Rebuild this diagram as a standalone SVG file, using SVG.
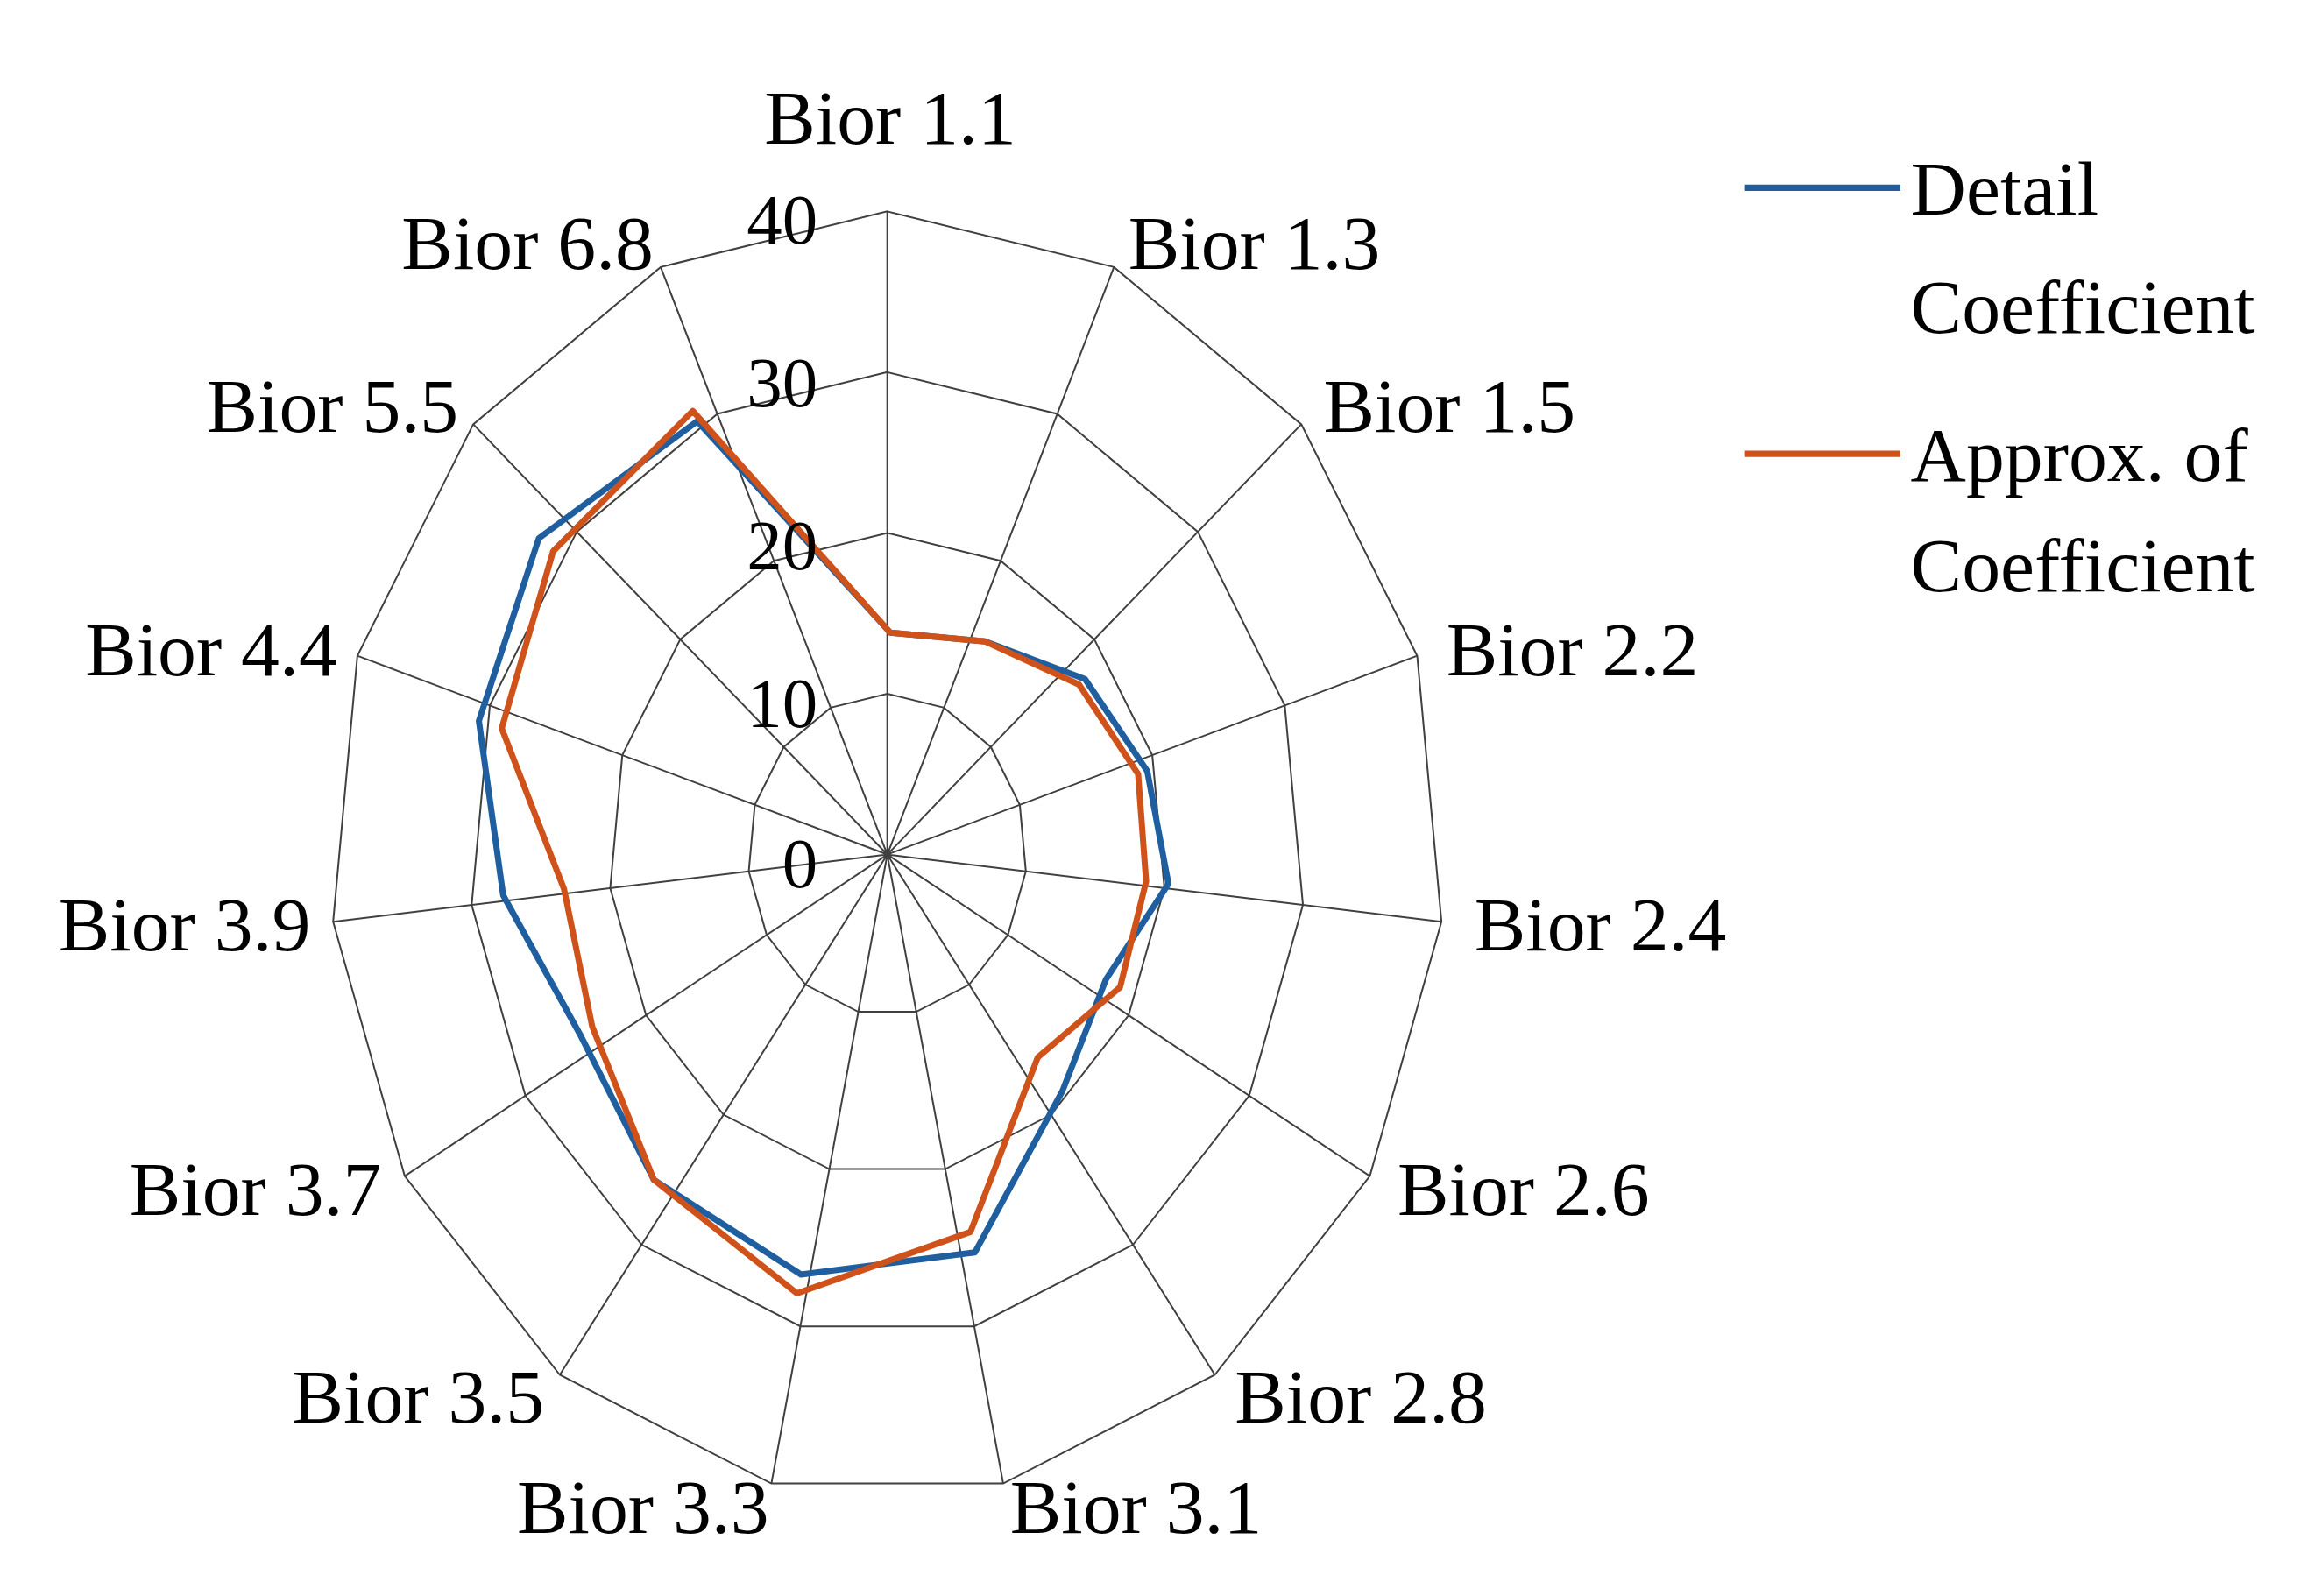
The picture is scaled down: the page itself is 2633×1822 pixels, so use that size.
<svg xmlns="http://www.w3.org/2000/svg" width="2633" height="1822" viewBox="0 0 2633 1822">
<style>
.g{fill:none;stroke:#404040;stroke-width:2;vector-effect:non-scaling-stroke}
.t{font-family:"Liberation Serif",serif;font-size:52px;fill:#000}
.n{font-family:"Liberation Serif",serif;font-size:48px;fill:#000;text-anchor:end}
.d{fill:none;stroke:#1f5fa0;stroke-width:7;stroke-linejoin:round;vector-effect:non-scaling-stroke}
.a{fill:none;stroke:#d0521b;stroke-width:7;stroke-linejoin:round;vector-effect:non-scaling-stroke}
</style>
<rect width="2633" height="1822" fill="#fff"/>
<g transform="scale(1.6878)">
<g id="grid" transform="translate(600,578) scale(9.42,10.875)">
<polygon class="g" points="0,-10 4.067,-9.135 7.431,-6.691 9.511,-3.090 9.945,1.045 8.660,5 5.878,8.090 2.079,9.781 -2.079,9.781 -5.878,8.090 -8.660,5 -9.945,1.045 -9.511,-3.090 -7.431,-6.691 -4.067,-9.135"/>
<polygon class="g" points="0,-20 8.134,-18.27 14.862,-13.382 19.022,-6.18 19.89,2.09 17.32,10 11.756,16.18 4.158,19.562 -4.158,19.562 -11.756,16.18 -17.32,10 -19.89,2.09 -19.022,-6.18 -14.862,-13.382 -8.134,-18.27"/>
<polygon class="g" points="0,-30 12.2,-27.405 22.293,-20.073 28.533,-9.27 29.835,3.135 25.98,15 17.634,24.27 6.237,29.343 -6.237,29.343 -17.634,24.27 -25.98,15 -29.835,3.135 -28.533,-9.27 -22.293,-20.073 -12.2,-27.405"/>
<polygon class="g" points="0,-40 16.27,-36.54 29.72,-26.76 38.04,-12.36 39.78,4.18 34.64,20 23.51,32.36 8.32,39.12 -8.32,39.12 -23.51,32.36 -34.64,20 -39.78,4.18 -38.04,-12.36 -29.72,-26.76 -16.27,-36.54"/>
<path class="g" d="M0,0L0,-40M0,0L16.27,-36.54M0,0L29.72,-26.76M0,0L38.04,-12.36M0,0L39.78,4.18M0,0L34.64,20M0,0L23.51,32.36M0,0L8.32,39.12M0,0L-8.32,39.12M0,0L-23.51,32.36M0,0L-34.64,20M0,0L-39.78,4.18M0,0L-38.04,-12.36M0,0L-29.72,-26.76M0,0L-16.27,-36.54"/>
</g>
<g id="series" transform="translate(602,578) scale(10.875)">
<polygon class="d" points="0,-13.8 5.90,-13.25 12.11,-10.91 15.98,-5.19 17.30,1.82 13.42,7.75 10.70,14.72 5.26,24.75 -5.55,26.12 -14.70,20.23 -19.31,11.15 -24.07,2.53 -25.58,-8.31 -21.85,-19.67 -12.00,-26.95"/>
<polygon class="a" points="0,-13.8 5.90,-13.25 11.74,-10.57 15.41,-5.01 15.91,1.67 14.29,8.25 9.17,12.62 4.99,23.47 -5.80,27.29 -14.70,20.23 -18.53,10.70 -20.29,2.13 -24.16,-7.85 -20.96,-18.87 -12.28,-27.59"/>
</g>
<g id="axis-labels">
<text class="n" x="553" y="165">40</text>
<text class="n" x="553" y="275">30</text>
<text class="n" x="553" y="385">20</text>
<text class="n" x="553" y="492">10</text>
<text class="n" x="553" y="600">0</text>
</g>
<g id="labels" class="t">
<text x="602" y="97" text-anchor="middle">Bior 1.1</text>
<text x="763" y="182">Bior 1.3</text>
<text x="895" y="292">Bior 1.5</text>
<text x="978" y="457">Bior 2.2</text>
<text x="997" y="643">Bior 2.4</text>
<text x="945" y="822">Bior 2.6</text>
<text x="835" y="962">Bior 2.8</text>
<text x="683" y="1037">Bior 3.1</text>
<text x="520" y="1037" text-anchor="end">Bior 3.3</text>
<text x="368" y="962" text-anchor="end">Bior 3.5</text>
<text x="258" y="822" text-anchor="end">Bior 3.7</text>
<text x="210" y="643" text-anchor="end">Bior 3.9</text>
<text x="228" y="457" text-anchor="end">Bior 4.4</text>
<text x="310" y="292" text-anchor="end">Bior 5.5</text>
<text x="442" y="182" text-anchor="end">Bior 6.8</text>
</g>
<g id="legend">
<line x1="1180" y1="127" x2="1285" y2="127" stroke="#1f5fa0" stroke-width="4.2"/>
<text class="t" x="1292" y="145">Detail</text>
<text class="t" x="1292" y="225">Coefficient</text>
<line x1="1180" y1="307" x2="1285" y2="307" stroke="#d0521b" stroke-width="4.2"/>
<text class="t" x="1292" y="325">Approx. of</text>
<text class="t" x="1292" y="400">Coefficient</text>
</g>
</g>
</svg>
